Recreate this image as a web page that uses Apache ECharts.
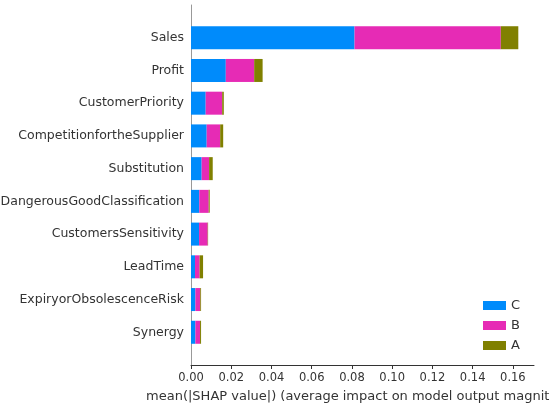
<!DOCTYPE html>
<html>
<head>
<meta charset="utf-8">
<script src="https://cdn.jsdelivr.net/npm/echarts@6/dist/echarts.min.js"></script>
<style>html,body{margin:0;padding:0;background:#fff}#c{width:550px;height:410px}</style>
</head>
<body>
<div id="c"></div>
<script>
const features = ['Sales','Profit','CustomerPriority','CompetitionfortheSupplier','Substitution','DangerousGoodClassification','CustomersSensitivity','LeadTime','ExpiryorObsolescenceRisk','Synergy'];
const classC = [0.0813, 0.0173, 0.0073, 0.0078, 0.0053, 0.0041, 0.0040, 0.0020, 0.0022, 0.0022];
const classB = [0.0727, 0.0141, 0.0082, 0.0067, 0.0037, 0.0047, 0.0043, 0.0023, 0.0024, 0.0023];
const classA = [0.0087, 0.0042, 0.0008, 0.0015, 0.0018, 0.0005, 0.0002, 0.0017, 0.0004, 0.0005];
const xTicks = [0, 0.02, 0.04, 0.06, 0.08, 0.10, 0.12, 0.14, 0.16];
const legendNames = ['C','B','A'];

const cats = [''].concat(features, ['']);
const pad = arr => [null].concat(arr, [null]);
const font = 'DejaVu Sans';
const chart = echarts.init(document.getElementById('c'), null, {renderer:'canvas'});
chart.setOption({
  animation: false,
  backgroundColor: '#fff',
  textStyle: {fontFamily: font},
  grid: {left: 191, right: 16, top: 5, bottom: 45, containLabel: false, outerBoundsMode: 'none'},
  legend: {
    data: legendNames, orient: 'vertical', left: 483, top: 298, padding: 0,
    itemWidth: 23, itemHeight: 9, itemGap: 5, icon: 'rect',
    textStyle: {fontSize: 13, color: '#333', fontFamily: font, lineHeight: 15}
  },
  xAxis: {
    type: 'value', min: 0, max: 0.1705, interval: 0.02,
    axisLine: {show: true, lineStyle: {color: '#333', width: 1}},
    axisTick: {show: true, length: 4, lineStyle: {color: '#333'}, customValues: xTicks},
    axisLabel: {fontSize: 11.5, color: '#333', margin: 7, fontFamily: font,
      customValues: xTicks, formatter: v => v.toFixed(2)},
    splitLine: {show: false},
    name: 'mean(|SHAP value|) (average impact on model output magnitude)',
    nameLocation: 'middle', nameGap: 25,
    nameTextStyle: {fontSize: 13, color: '#333', fontFamily: font}
  },
  yAxis: {
    type: 'category', data: cats, inverse: true, boundaryGap: false,
    axisLine: {show: true, lineStyle: {color: '#999', width: 1}},
    axisTick: {show: false},
    axisLabel: {fontSize: 12.5, color: '#333', margin: 7, fontFamily: font, interval: 0},
    splitLine: {show: false}
  },
  series: [
    {name: 'C', type: 'bar', stack: 't', barWidth: 23, data: pad(classC), itemStyle: {color: '#008bfb'}},
    {name: 'B', type: 'bar', stack: 't', barWidth: 23, data: pad(classB), itemStyle: {color: '#e62bb5'}},
    {name: 'A', type: 'bar', stack: 't', barWidth: 23, data: pad(classA), itemStyle: {color: '#808000'}}
  ]
});
</script>
</body>
</html>
